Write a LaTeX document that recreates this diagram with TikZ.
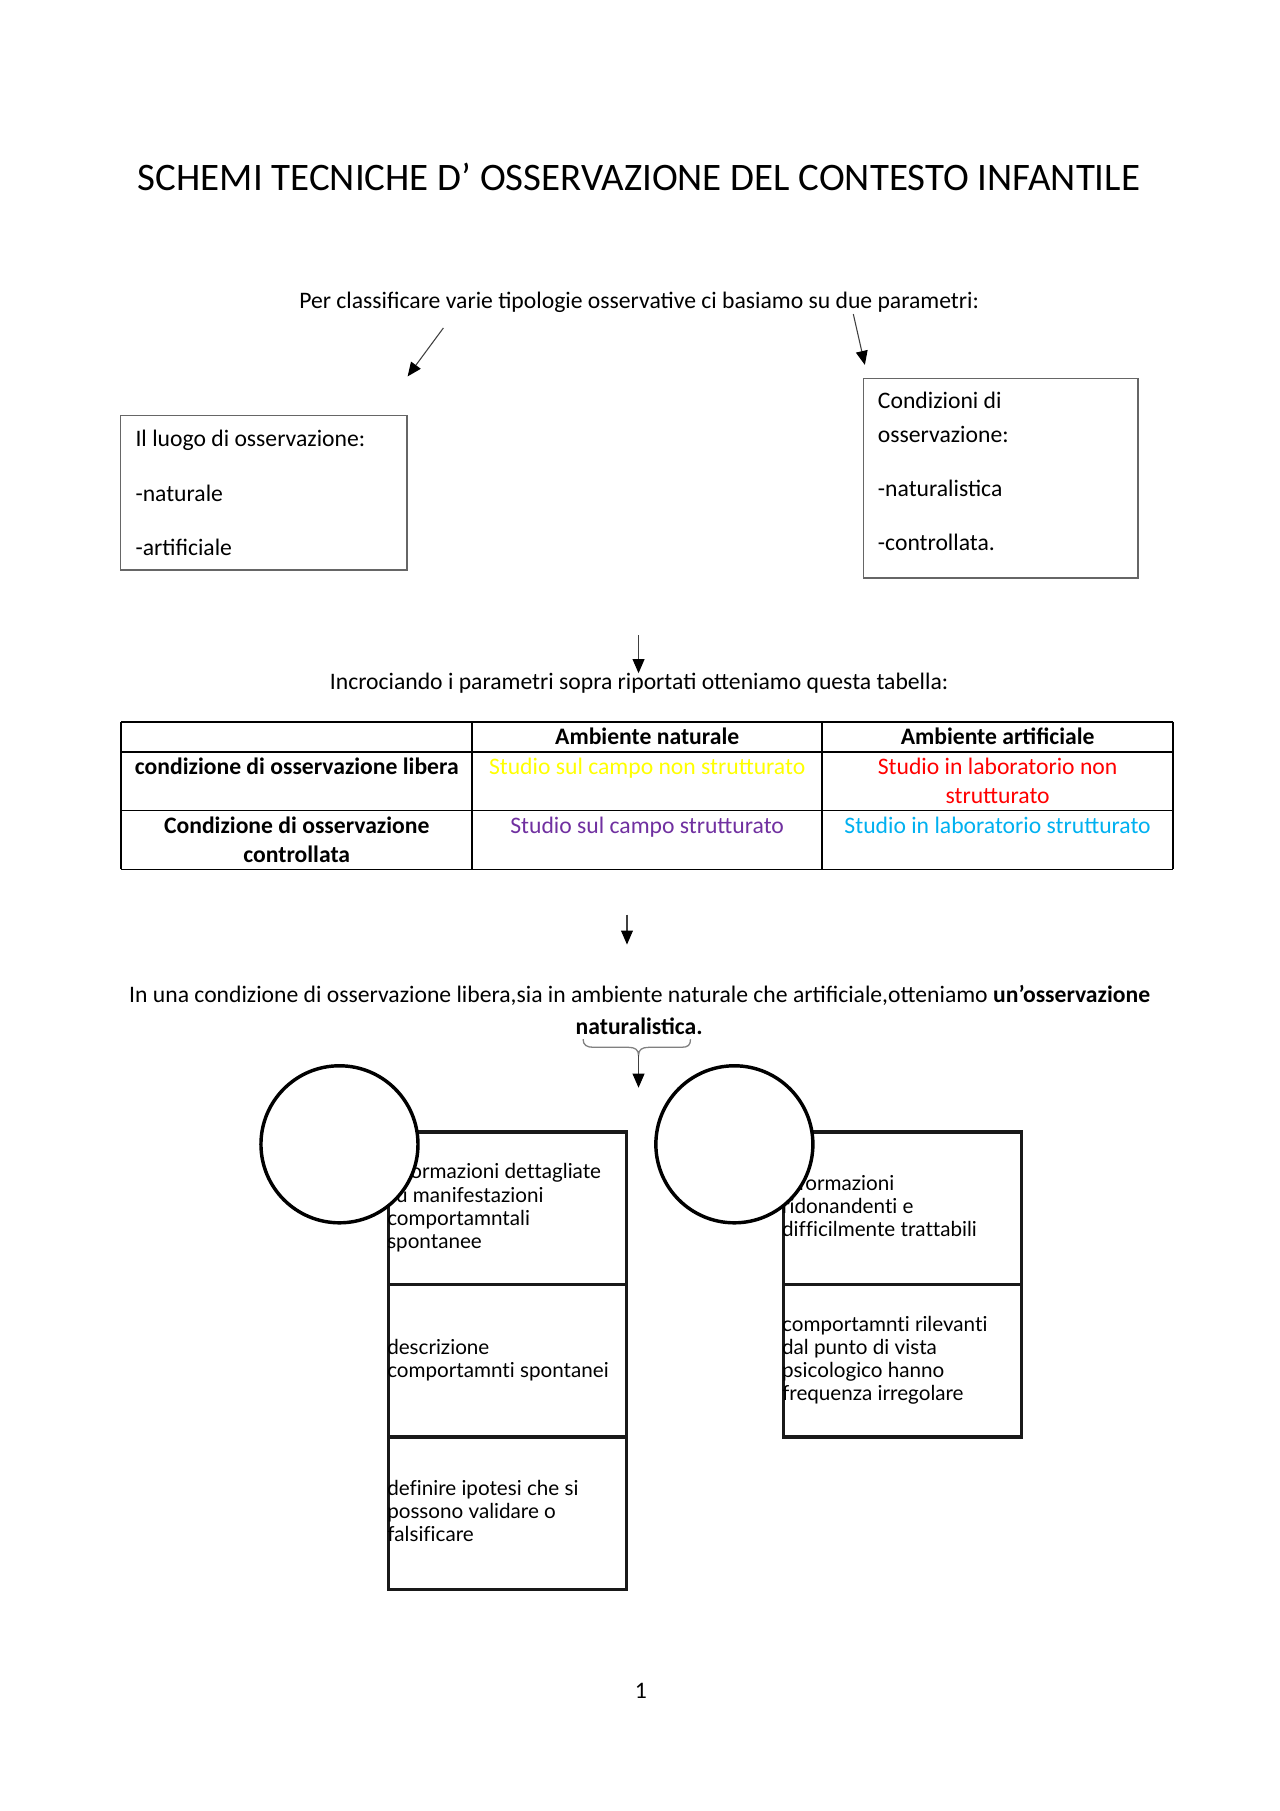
\documentclass[tikz,border=0pt]{standalone}
\usepackage{fontspec}
\setmainfont{Carlito}
\newfontfamily\boxfont{Lato}[Ligatures=NoCommon]
\usetikzlibrary{arrows.meta}
\definecolor{cyel}{HTML}{FFFF00}
\definecolor{cred}{HTML}{FF0000}
\definecolor{cpur}{HTML}{7030A0}
\definecolor{ccya}{HTML}{00B0F0}
\definecolor{bracegray}{HTML}{808080}
\begin{document}
\begin{tikzpicture}[x=0.537pt,y=-0.537pt,
  body/.style={inner sep=0pt, font=\fontsize{11}{13.4}\selectfont},
  bodyc/.style={body, anchor=base},
  multil/.style={body, anchor=base west, text width=#1, align=flush left},
  multic/.style={body, anchor=base, text width=#1, align=flush center},
  small/.style={inner sep=0pt, anchor=base west, text width=130pt, align=flush left, font=\boxfont\fontsize{9.6}{10.74}\selectfont},
  thinbox/.style={draw=black!60, line width=0.6pt, inner sep=0pt, anchor=north west},
  thickbox/.style={draw=black!90, line width=1.6pt, inner sep=0pt, anchor=north west, minimum width=206*0.537pt, minimum height=132*0.537pt},
  ring/.style={draw=black, fill=white, line width=1.6pt, circle, minimum size=136*0.537pt, inner sep=0pt},
  arr/.style={draw=black!75, line width=0.5pt, -{Triangle[length=6.5pt,width=5.5pt,color=black]}},
  tline/.style={draw=black, line width=0.8pt}
]
\useasboundingbox (0,0) rectangle (1108.5,1568.4);

% title
\node[bodyc, font=\fontsize{18.1}{21}\selectfont] (title) at (553.5,165) {SCHEMI TECNICHE D’ OSSERVAZIONE DEL CONTESTO INFANTILE};

\node[bodyc] (intro) at (553.5,267) {Per classificare varie tipologie osservative ci basiamo su due parametri:};

% arrows to the two boxes
\coordinate (a1s) at (384,284);
\coordinate (a1e) at (353,326);
\coordinate (a2s) at (739,272);
\coordinate (a2e) at (749,316);
\draw[arr] (a1s) -- (a1e);
\draw[arr] (a2s) -- (a2e);

% left box
\node[thinbox, minimum width=248*0.537pt, minimum height=134*0.537pt] (luogo) at (104,359) {};
\node[multil=160pt] (luogotxt) at (117,387) {Il luogo di osservazione:\\[11.8pt]-naturale\\[11.8pt]-artificiale};

% right box
\node[thinbox, minimum width=238*0.537pt, minimum height=173*0.537pt] (cond) at (747,327) {};
\node[multil=120pt] (condtxt) at (760,354) {Condizioni di\\[2.2pt]osservazione:\\[11.8pt]-naturalistica\\[11.8pt]-controllata.};

% arrow to table sentence
\coordinate (a3s) at (553,550);
\coordinate (a3e) at (553,583);
\draw[arr] (a3s) -- (a3e);

\node[bodyc] (incro) at (553.5,597) {Incrociando i parametri sopra riportati otteniamo questa tabella:};

% table grid
\draw[tline] (105,625) -- (1016,625);
\draw[tline] (105,651) -- (1016,651);
\draw[tline] (105,702) -- (1016,702);
\draw[tline] (105,753) -- (1016,753);
\draw[tline] (105,625) -- (105,753);
\draw[tline] (409,625) -- (409,753);
\draw[tline] (712,625) -- (712,753);
\draw[tline] (1016,625) -- (1016,753);

\node[bodyc, font=\fontsize{11}{13.4}\bfseries] (h2) at (560.5,645) {Ambiente naturale};
\node[bodyc, font=\fontsize{11}{13.4}\bfseries] (h3) at (864,645) {Ambiente artificiale};
\node[bodyc, font=\fontsize{11}{13.4}\bfseries] (r1) at (257,671) {condizione di osservazione libera};
\node[multic=160pt, font=\fontsize{11}{13.4}\bfseries] (r2) at (257,722) {Condizione di osservazione\\controllata};
\node[bodyc, text=cyel] (c11) at (560.5,671) {Studio sul campo non strutturato};
\node[multic=160pt, text=cred] (c12) at (864,671) {Studio in laboratorio non\\strutturato};
\node[bodyc, text=cpur] (c21) at (560.5,722) {Studio sul campo strutturato};
\node[bodyc, text=ccya] (c22) at (864,722) {Studio in laboratorio strutturato};

% arrow under table
\coordinate (a4s) at (543,792);
\coordinate (a4e) at (543,818);
\draw[arr] (a4s) -- (a4e);

\node[bodyc] (concl) at (554,868) {In una condizione di osservazione libera,sia in ambiente naturale che artificiale,otteniamo \textbf{un’osservazione}};
\node[bodyc, font=\fontsize{11}{13.4}\bfseries] (natur) at (553.5,896) {naturalistica.};

% brace
\coordinate (btip) at (553,914);
\draw[bracegray, line width=0.6pt] (505,900) .. controls (505,905) and (508,907) .. (514,907) -- (544,907) .. controls (550,907) and (553,909) .. (btip) .. controls (553,909) and (556,907) .. (562,907) -- (590,907) .. controls (596,907) and (598,905) .. (598,900);
\coordinate (a5e) at (553,942);
\draw[arr] (btip) -- (a5e);

% left column boxes
\node[thickbox] (lb1) at (335,979) {};
\node[thickbox] (lb2) at (335,1111) {};
\node[thickbox] (lb3) at (335,1243) {};
\node[small] (lt1) at (335,1021) {informazioni dettagliate\\su manifestazioni\\comportamntali\\spontanee};
\node[small] (lt2) at (335,1173) {descrizione\\comportamnti spontanei};
\node[small] (lt3) at (335,1295) {definire ipotesi che si\\possono validare o\\falsificare};

% right column boxes
\node[thickbox] (rb1) at (677,979) {};
\node[thickbox] (rb2) at (677,1111) {};
\node[small] (rt1) at (677,1031) {informazioni\\ridonandenti e\\difficilmente trattabili};
\node[small] (rt2) at (677,1153) {comportamnti rilevanti\\dal punto di vista\\psicologico hanno\\frequenza irregolare};

% circles on top
\node[ring] (lc) at (294,991) {};
\node[ring] (rc) at (636,991) {};

% page number
\node[bodyc] (pg) at (555,1471) {1};
\end{tikzpicture}
\end{document}
